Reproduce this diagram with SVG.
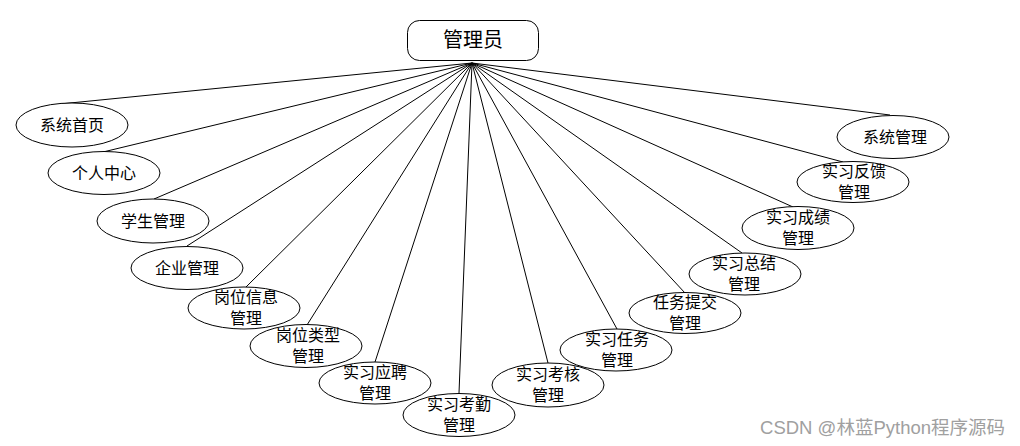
<svg xmlns="http://www.w3.org/2000/svg" width="1020" height="446" viewBox="0 0 1020 446">
<style>
.n{fill:#fff;stroke:#000;stroke-width:1}
.t{font-family:"Liberation Sans","Noto Sans CJK SC",sans-serif;font-size:16px;fill:#000;text-anchor:middle;dominant-baseline:central}
.c line{stroke:#000;stroke-width:1}
.w{font-family:"Liberation Sans","Noto Sans CJK SC",sans-serif;font-size:18.500px;fill:#a0a0a0;text-anchor:end;dominant-baseline:central}
</style>
<rect width="1020" height="446" fill="#fff"/>
<g id="connectors" class="c">
<line x1="472" y1="63" x2="60" y2="104"/>
<line x1="472" y1="63" x2="103" y2="152"/>
<line x1="472" y1="63" x2="154" y2="199"/>
<line x1="472" y1="63" x2="187" y2="246"/>
<line x1="472" y1="63" x2="246" y2="287"/>
<line x1="472" y1="63" x2="307" y2="325"/>
<line x1="472" y1="63" x2="375" y2="362"/>
<line x1="472" y1="63" x2="459" y2="393"/>
<line x1="472" y1="63" x2="548" y2="363"/>
<line x1="472" y1="63" x2="617" y2="329"/>
<line x1="472" y1="63" x2="685" y2="293"/>
<line x1="472" y1="63" x2="742" y2="253"/>
<line x1="472" y1="63" x2="793" y2="207"/>
<line x1="472" y1="63" x2="843" y2="162"/>
<line x1="472" y1="63" x2="890" y2="115"/>
</g>
<g id="admin"><rect class="n" x="407.500" y="20.500" width="131" height="40" rx="12"/><text class="t" x="473" y="40" style="font-size:20px">管理员</text></g>
<g id="n1"><ellipse class="n" cx="72" cy="125" rx="56" ry="22"/><text class="t" x="72" y="125">系统首页</text></g>
<g id="n2"><ellipse class="n" cx="104" cy="173" rx="56" ry="21.500"/><text class="t" x="104" y="173">个人中心</text></g>
<g id="n3"><ellipse class="n" cx="153" cy="221" rx="56" ry="22"/><text class="t" x="153" y="221">学生管理</text></g>
<g id="n4"><ellipse class="n" cx="187" cy="268" rx="56" ry="21.500"/><text class="t" x="187" y="268">企业管理</text></g>
<g id="n5"><ellipse class="n" cx="244" cy="308" rx="56" ry="21"/><text class="t" x="246" y="297">岗位信息</text><text class="t" x="246" y="318">管理</text></g>
<g id="n6"><ellipse class="n" cx="306" cy="346" rx="56" ry="21.500"/><text class="t" x="308" y="335">岗位类型</text><text class="t" x="308" y="356">管理</text></g>
<g id="n7"><ellipse class="n" cx="375" cy="383" rx="56" ry="21"/><text class="t" x="375" y="372">实习应聘</text><text class="t" x="375" y="393">管理</text></g>
<g id="n8"><ellipse class="n" cx="459" cy="415" rx="56" ry="21.500"/><text class="t" x="459" y="404">实习考勤</text><text class="t" x="459" y="425">管理</text></g>
<g id="n9"><ellipse class="n" cx="548" cy="385" rx="56" ry="22"/><text class="t" x="548" y="374">实习考核</text><text class="t" x="548" y="395">管理</text></g>
<g id="n10"><ellipse class="n" cx="616" cy="350" rx="56" ry="21"/><text class="t" x="617" y="339">实习任务</text><text class="t" x="617" y="360">管理</text></g>
<g id="n11"><ellipse class="n" cx="685" cy="313" rx="56" ry="20.500"/><text class="t" x="685" y="302">任务提交</text><text class="t" x="685" y="323">管理</text></g>
<g id="n12"><ellipse class="n" cx="745" cy="274" rx="56" ry="21"/><text class="t" x="744" y="263">实习总结</text><text class="t" x="744" y="284">管理</text></g>
<g id="n13"><ellipse class="n" cx="798" cy="228" rx="56" ry="21.500"/><text class="t" x="798" y="217">实习成绩</text><text class="t" x="798" y="238">管理</text></g>
<g id="n14"><ellipse class="n" cx="853" cy="182" rx="56" ry="20.500"/><text class="t" x="854" y="171">实习反馈</text><text class="t" x="854" y="192">管理</text></g>
<g id="n15"><ellipse class="n" cx="893" cy="137" rx="56" ry="21.500"/><text class="t" x="895" y="137">系统管理</text></g>
<text class="w" x="1005" y="427">CSDN @林蓝Python程序源码</text>
</svg>
